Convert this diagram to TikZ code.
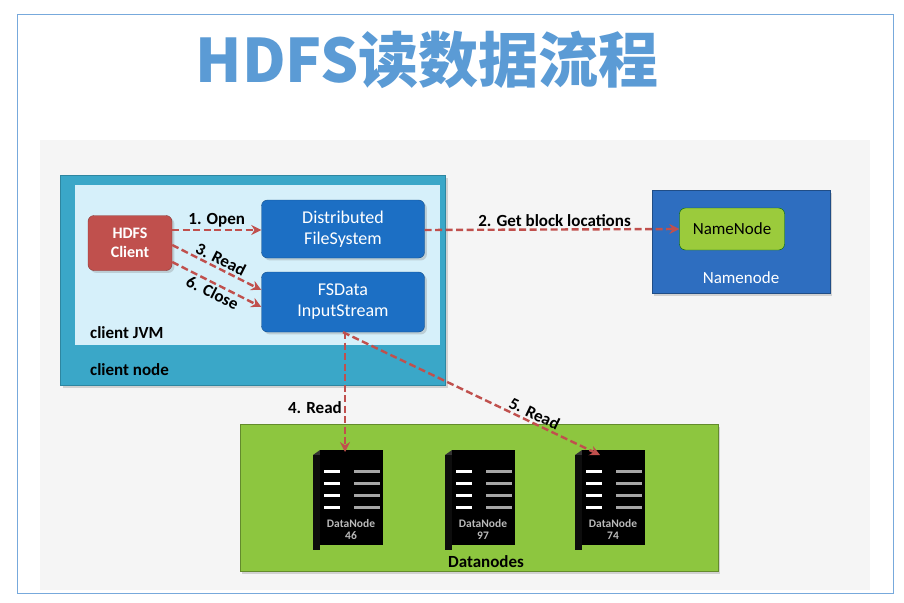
\documentclass[tikz,border=0pt]{standalone}
\usepackage{fontspec}
\setmainfont{Carlito}
\newfontfamily\cjk{Noto Sans CJK SC}
\usetikzlibrary{arrows.meta,shadows}
\definecolor{arr}{HTML}{C0504D}
\definecolor{teal1}{HTML}{3AA7C8}
\definecolor{jvm}{HTML}{D6F0FA}
\definecolor{blu}{HTML}{1C6FC4}
\definecolor{nn}{HTML}{2E6EC0}
\definecolor{grn}{HTML}{8DC63F}
\definecolor{nng}{HTML}{9BCB3C}
\definecolor{ttl}{HTML}{5B9BD5}
\tikzset{
  da/.style={draw=arr,line width=2.4pt,dash pattern=on 7pt off 3.5pt,-{Stealth[length=10pt,width=10pt]}},
  lbl/.style={font=\bfseries\fontsize{17}{17}\selectfont,text=black,inner sep=2pt},
  bbox/.style={fill=blu,draw=blu!70!black,rounded corners=6pt,text=white,align=center,font=\fontsize{18}{21}\selectfont,drop shadow={opacity=0.3}},
  pics/server/.style={code={
    \fill[black!80] (-35,-45) -- (-28,-50) -- (35,-50) -- (28,-45) -- cycle;
    \fill[black!95] (-35,-45) rectangle (-28,50);
    \fill[black] (-28,-50) rectangle (35,45);
    \foreach \y in {-30,-18,-6,6}{
      \fill[white] (-24,\y) rectangle (-8,\y+3);
      \fill[gray!70] (6,\y) rectangle (32,\y+3);
    }
    \node[text=gray!55,font=\bfseries\fontsize{11.5}{12}\selectfont,align=center,inner sep=0] (-name) at (3,29) {DataNode\\#1};
  }}
}
\begin{document}
\begin{tikzpicture}[x=1pt,y=-1pt]
\useasboundingbox (0,0) rectangle (904,602);
\fill[white] (0,0) rectangle (904,602);
\draw[blu!60,line width=1pt] (17,15) rectangle (893,593);
\fill[gray!8] (40,140) rectangle (870,590);
\node[font=\cjk\bfseries\fontsize{60}{60}\selectfont,text=ttl] (title) at (427,60) {HDFS读数据流程};
% client node
\node[fill=teal1,draw=teal1!80!black,minimum width=385pt,minimum height=210pt,anchor=north west,inner sep=0,drop shadow={opacity=0.3}] (cn) at (60,175) {};
\node[fill=jvm,minimum width=365pt,minimum height=160pt,anchor=north west,inner sep=0] (jvm) at (75,185) {};
\node[lbl,anchor=west] (cnl) at (88,370) {client node};
\node[lbl,anchor=west] (jvml) at (88,333) {client JVM};
\node[fill=arr,draw=arr!70!black,rounded corners=6pt,text=white,align=center,minimum width=84pt,minimum height=55pt,font=\bfseries\fontsize{16}{19}\selectfont,drop shadow={opacity=0.3}] (hc) at (130,243) {HDFS\\Client};
\node[bbox,minimum width=163pt,minimum height=58pt] (dfs) at (343,229) {Distributed\\FileSystem};
\node[bbox,minimum width=163pt,minimum height=60pt] (fs) at (343,302) {FSData\\InputStream};
% namenode
\node[fill=nn,draw=nn!70!black,minimum width=178pt,minimum height=103pt,drop shadow={opacity=0.3}] (nnb) at (741,242) {};
\node[fill=nng,draw=green!40!black,rounded corners=6pt,minimum width=105pt,minimum height=42pt,font=\fontsize{17}{17}\selectfont,text=black] (nn) at (732,229) {NameNode};
\node[text=white,font=\fontsize{17}{17}\selectfont] (nnl) at (741,278) {Namenode};
% datanodes
\node[fill=grn,draw=grn!70!black,minimum width=478pt,minimum height=147pt,drop shadow={opacity=0.3}] (dn) at (479,498) {};
\node[lbl] (dnl) at (486,562) {Datanodes};
\pic (s1) at (348,500) {server={46}};
\pic (s2) at (480,500) {server={97}};
\pic (s3) at (610,500) {server={74}};
\coordinate (s1t) at (345,452);
\coordinate (s3t) at (600,455);
% arrows
\draw[da] (hc.east |- 0,230) -- node[lbl,above] {1. Open} (dfs.west |- 0,230);
\draw[da] (hc.east |- 0,245) -- node[lbl,sloped,above] {3. Read} (fs.west |- 0,290);
\draw[da] (hc.east |- 0,262) -- node[lbl,sloped,below] {6. Close} (fs.west |- 0,307);
\draw[da] (dfs.east |- 0,230) -- node[lbl,pos=0.51,above] {2. Get block locations} (nn.west);
\draw[da] (fs.south -| s1t) -- node[lbl,left,pos=0.63] {4. Read} (s1t);
\draw[da] (fs.south) -- node[lbl,sloped,above,pos=0.73] {5. Read} (s3t);
\end{tikzpicture}
\end{document}
